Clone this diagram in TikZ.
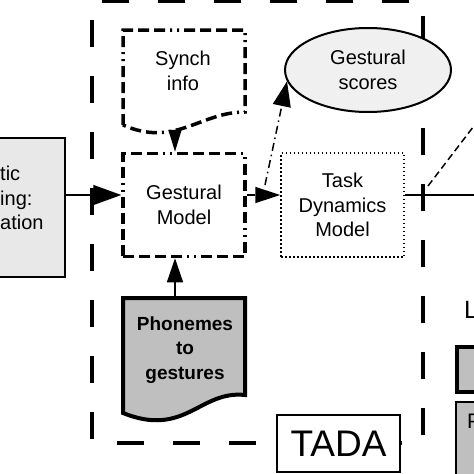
\documentclass[tikz,border=0pt]{standalone}
\usepackage{fontspec}
\setmainfont{Liberation Sans}
\usetikzlibrary{arrows.meta,shapes.geometric}
\colorlet{lingfill}{gray!18}
\colorlet{scorefill}{gray!12}
\colorlet{phonfill}{gray!50}

\begin{document}
\begin{tikzpicture}[x=1pt, y=-1pt,
	txt/.style={font=\fontsize{20}{24.5}\selectfont, align=center, inner sep=0},
	ddot/.style={line width=3.5pt, dash pattern=on 11pt off 5pt on 11pt off 5pt on 11pt off 5pt on 11pt off 5pt on 2pt off 5pt on 2pt off 5pt},
	tadaline/.style={line width=3.5pt, dash pattern=on 27pt off 29pt},
	thin/.style={line width=1.5pt},
	dashdot/.style={line width=1.5pt, dash pattern=on 8pt off 4pt on 1.5pt off 4pt}]

\clip (0,0) rectangle (474,474);

% TADA region
\draw[tadaline, dash phase=46pt] (92,1) -- (423,1) -- (423,443) -- (277,443);
\draw[tadaline, dash phase=37pt] (92,1) -- (92,443) -- (277,443);

% linguistic box (cut off)
\node[draw, line width=2pt, fill=lingfill, minimum width=100pt, minimum height=139pt, inner sep=0] (ling) at (15,207.5) {};
\node[txt, anchor=west, align=left] (lingtxt) at (0,198) {tic\\ing:\\ation};

% synch info
\draw[ddot] (123,125) -- (123,30) -- (245,30) -- (245,112) .. controls (200,112) and (175,148) .. (123,125) -- cycle;
\node[txt] (synch) at (183,71) {Synch\\info};
\coordinate (synchlow) at (175,131);

% gestural model
\node[draw, ddot, txt, minimum width=122pt, minimum height=103pt] (gmodel) at (184,205) {Gestural\\Model};

% task dynamics
\node[draw, thin, dash pattern=on 1.5pt off 2.5pt, txt, minimum width=123pt, minimum height=104pt] (task) at (342.5,205) {Task\\Dynamics\\Model};

% gestural scores
\node[draw, ellipse, line width=2pt, fill=scorefill, txt, minimum width=166pt, minimum height=84pt] (scores) at (368,70) {Gestural\\scores};

% phonemes to gestures
\draw[line width=4pt, fill=phonfill] (123,298) -- (245,298) -- (245,395) .. controls (200,390) and (185,438) .. (123,413) -- cycle;
\node[txt, font=\bfseries\fontsize{19}{24.5}\selectfont] (phon) at (185,350) {Phonemes\\to\\gestures};
\coordinate (phontop) at (175,298);

% TADA label
\node[draw, line width=2pt, fill=white, minimum width=123pt, minimum height=57pt, inner sep=0, font=\fontsize{37}{40}\selectfont] (tada) at (338.5,443.5) {TADA};

% right side (cut off)
\node[anchor=west, inner sep=0, font=\fontsize{25}{28}\selectfont] (lbl) at (464,310) {L};
\node[draw, line width=4pt, fill=phonfill, minimum width=60pt, minimum height=45pt, anchor=north west] (rbox) at (455,345) {};
\node[draw, line width=2pt, fill=phonfill, minimum width=60pt, minimum height=75pt, anchor=north west] (pbox) at (455,401) {};
\node[anchor=west, inner sep=0, font=\fontsize{21}{24}\selectfont] (plbl) at (467,421) {P};

% connectors
\coordinate (row) at (0,195);
\draw[thin, -{Triangle[length=28pt,width=20pt]}] (ling.east |- row) -- (gmodel.west |- row);
\draw[thin, -{Triangle[length=22pt,width=13pt]}] (synchlow) -- (synchlow |- gmodel.north);
\draw[thin, -{Triangle[length=24pt,width=16pt]}] (phontop) -- (phontop |- gmodel.south);
\draw[dashdot, -{Triangle[length=25pt,width=16pt]}] (gmodel.east |- row) -- (task.west |- row);

\coordinate (split) at (265,185);
\draw[dashdot, -{Triangle[length=25pt,width=18pt]}] (split) -- (scores.188);

\coordinate (rightend) at (480,195);
\draw[thin] (task.east |- row) -- (rightend);
\coordinate (dstart) at (428,186);
\coordinate (dend) at (480,118);
\draw[thin, dash pattern=on 7pt off 4pt] (dstart) -- (dend);

\end{tikzpicture}
\end{document}
